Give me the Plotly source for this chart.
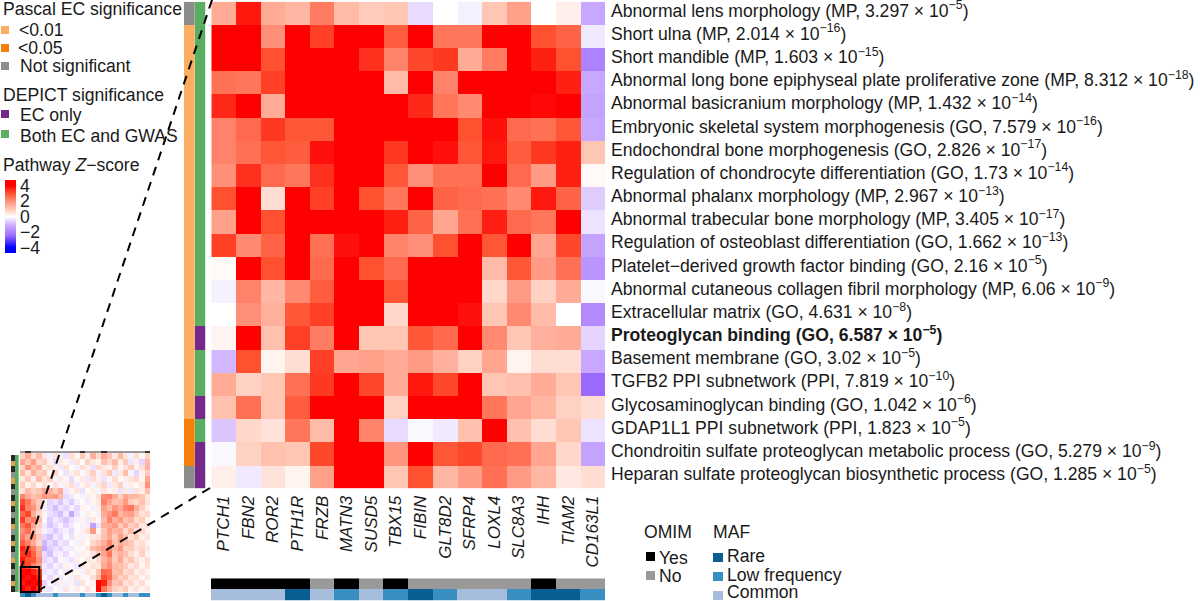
import plotly.graph_objects as go

W, H = 1200, 601
FONT = "Liberation Sans"
TXT = "#1a1a1a"
FS = 17.6

genes = ["PTCH1", "FBN2", "ROR2", "PTH1R", "FRZB", "MATN3", "SUSD5", "TBX15", "FIBIN",
         "GLT8D2", "SFRP4", "LOXL4", "SLC8A3", "IHH", "TIAM2", "CD163L1"]

pathways = [
    "Abnormal lens morphology (MP, 3.297 × 10<sup>−5</sup>)",
    "Short ulna (MP, 2.014 × 10<sup>−16</sup>)",
    "Short mandible (MP, 1.603 × 10<sup>−15</sup>)",
    "Abnormal long bone epiphyseal plate proliferative zone (MP, 8.312 × 10<sup>−18</sup>)",
    "Abnormal basicranium morphology (MP, 1.432 × 10<sup>−14</sup>)",
    "Embryonic skeletal system morphogenesis (GO, 7.579 × 10<sup>−16</sup>)",
    "Endochondral bone morphogenesis (GO, 2.826 × 10<sup>−17</sup>)",
    "Regulation of chondrocyte differentiation (GO, 1.73 × 10<sup>−14</sup>)",
    "Abnormal phalanx morphology (MP, 2.967 × 10<sup>−13</sup>)",
    "Abnormal trabecular bone morphology (MP, 3.405 × 10<sup>−17</sup>)",
    "Regulation of osteoblast differentiation (GO, 1.662 × 10<sup>−13</sup>)",
    "Platelet−derived growth factor binding (GO, 2.16 × 10<sup>−5</sup>)",
    "Abnormal cutaneous collagen fibril morphology (MP, 6.06 × 10<sup>−9</sup>)",
    "Extracellular matrix (GO, 4.631 × 10<sup>−8</sup>)",
    "<b>Proteoglycan binding (GO, 6.587 × 10<sup>−5</sup>)</b>",
    "Basement membrane (GO, 3.02 × 10<sup>−5</sup>)",
    "TGFB2 PPI subnetwork (PPI, 7.819 × 10<sup>−10</sup>)",
    "Glycosaminoglycan binding (GO, 1.042 × 10<sup>−6</sup>)",
    "GDAP1L1 PPI subnetwork (PPI, 1.823 × 10<sup>−5</sup>)",
    "Chondroitin sulfate proteoglycan metabolic process (GO, 5.279 × 10<sup>−9</sup>)",
    "Heparan sulfate proteoglycan biosynthetic process (GO, 1.285 × 10<sup>−5</sup>)",
]

zscores = [
    [1.5, 3.7, 1.5, 1.3, 2.3, 1.2, 0.9, 1.0, -0.5, 0.0, -0.2, 1.0, 1.7, 0.0, 0.3, -1.2],
    [4, 4, 2, 4, 3.2, 4, 4, 2.8, 4, 2.4, 2.4, 4, 4, 3, 2.7, -0.3],
    [4, 4, 3, 4, 4, 4, 3.4, 2.2, 3.1, 3.3, 1.5, 2.3, 4, 3.6, 3, -2],
    [2.5, 2.4, 3.2, 4, 4, 4, 4, 1.2, 4, 2.2, 4, 4, 4, 4, 3.6, -1.2],
    [3.5, 4, 1.5, 4, 4, 4, 4, 4, 3.5, 2.4, 2.1, 4, 4, 3.9, 4, -1.3],
    [2.2, 2.6, 3.3, 2.9, 2.9, 4, 4, 4, 4, 4, 3, 3.8, 2.6, 2.5, 2.9, -1.2],
    [2.2, 2.5, 2.9, 2.8, 3.8, 4, 4, 3.3, 4, 3.8, 2.9, 3.7, 2.8, 3.3, 3.6, 1.0],
    [2, 3.4, 2.6, 2.4, 3.4, 4, 4, 2.9, 2, 2.5, 2.5, 4, 2.6, 1.8, 3.6, 0.1],
    [3, 4, 0.6, 4, 3.2, 4, 3, 2.4, 4, 2.7, 2.6, 2.5, 2.1, 3.7, 2.7, -0.7],
    [1.7, 4, 3, 4, 4, 4, 4, 3.6, 2.7, 1.6, 2.5, 3.6, 2.6, 2.4, 4, -0.4],
    [3.2, 2.1, 2.7, 4, 2.5, 3.8, 4, 2.2, 2, 3, 4, 2.9, 4, 1.6, 3.1, -1.3],
    [0.1, 4, 3, 4, 2.6, 4, 3, 2.6, 4, 4, 4, 1.2, 2.9, 1.8, 2.5, -1.6],
    [-0.2, 2.2, 1.3, 2.1, 2.8, 4, 4, 2.9, 4, 4, 4, 0.7, 1.8, 0.8, 1.5, -0.1],
    [0, 2, 1.4, 2.9, 3.2, 4, 4, 0.7, 4, 4, 3.8, 1, 2.1, 1.2, 0, -1.8],
    [0.2, 4, 1.1, 3.2, 2.3, 4, 1, 1, 2.9, 2.6, 4, 2.1, 1, 1.4, 1.5, -0.6],
    [-1, 3, 0.2, 0.6, 3.2, 1.6, 1.7, 1.5, 1.8, 1.4, 0.8, 1.6, 0.2, 0.6, 0.6, -1.2],
    [1.5, 0.8, 1, 2.5, 3.3, 4, 3.1, 1.5, 3.7, 3.1, 4, 1, 1.1, 1.5, 1, -2.5],
    [1.1, 2.5, 1, 2.8, 4, 4, 4, 0.8, 4, 4, 4, 2.4, 1.6, 1.3, 0.8, 0.6],
    [-0.8, 0.7, 0.5, 2.4, 1.2, 4, 2.2, -0.5, -0.1, -0.3, 1.1, 4, 1.1, 0.6, 1, -0.4],
    [-0.1, 0.8, 1.1, 1, 3.1, 4, 4, 1.9, 4, 2.9, 3.1, 2.6, 2.5, 1.6, 0.7, -1.3],
    [0.3, -0.3, 0.5, 0.2, 1.7, 4, 4, 1, 3, 1.3, 1.8, 2.5, 1.8, 1.3, 0.4, 0.6],
]

# 0 <0.01, 1 <0.05, 2 not significant
pascal = [2] + [0] * 17 + [1, 1, 2]
# 0 both, 1 EC only
depict = [0] * 14 + [1, 0, 0, 1, 0, 1, 1]
# 0 yes, 1 no
omim = [0, 0, 0, 0, 1, 0, 1, 0, 1, 1, 1, 1, 1, 0, 1, 1]
# 2 rare, 3 low frequency, 4 common
maf = [4, 4, 4, 2, 4, 3, 4, 3, 2, 3, 4, 4, 3, 2, 2, 3]

overview = [
    [0.8, 1.5, 0.6, 1.2, 0.4, -0.2, 0.5, 0.3, -0.4, 0.6, 0.2, 0.9, 0.3, 1.4, 0.6, 1.5, 1.0, 0.4, 1.3, 0.5, -0.2, 0.6, 0.2, 0.8],
    [1.6, 1.0, 1.8, 0.7, 0.9, 0.3, -0.5, 0.4, 0.2, -0.3, 0.5, 0.1, 0.8, 0.4, 0.2, 1.1, 0.7, 1.2, 0.3, 0.9, -0.4, 0.3, -0.6, 1.2],
    [0.7, 1.9, 1.1, 1.4, 0.3, 0.6, 0.2, -0.3, 0.5, 0.1, -0.2, 0.6, 0.3, -0.4, 0.7, 0.4, 0.3, 0.8, 0.2, 0.5, 0.9, 0.2, 0.6, 1.4],
    [1.2, 0.5, 1.4, 0.8, 1.0, 0.2, 0.7, 0.1, -0.4, 0.3, 0.5, -0.1, 0.4, 0.8, -0.2, 0.5, 1.0, -0.3, 0.4, 1.1, -0.2, -0.6, 0.3, 0.9],
    [0.4, 0.9, 0.3, 1.2, 0.5, 0.8, -0.2, 0.4, 0.2, -0.5, 0.2, 0.4, -0.3, 0.6, 0.3, -0.4, 0.2, 0.6, 0.1, 0.3, 0.5, 0.7, 0.2, 1.6],
    [0.9, 0.3, 0.7, 0.2, 0.6, 0.1, 0.5, -0.2, 0.3, 0.6, -0.3, 0.2, 0.5, -0.2, 0.4, 0.7, -0.3, 0.4, 0.8, -0.2, 0.3, 0.1, 0.4, 2.0],
    [0.5, 1.2, 0.8, 1.0, 1.6, 1.4, 0.9, 1.5, -0.3, 0.2, 0.4, -0.4, 0.1, 0.3, -0.2, 0.5, 0.2, 0.3, -0.4, 0.4, -0.3, 0.5, 0.3, 1.1],
    [2.2, 1.5, 1.1, 1.3, 1.9, 1.6, 1.8, 1.2, -0.5, -0.3, 0.1, -0.2, 0.3, 0.2, 0.5, 2.0, 2.2, 1.5, 0.8, 1.6, 1.3, 1.2, 1.0, 0.4],
    [3.0, 2.4, 1.5, 0.9, 0.1, -0.6, -0.4, -0.8, -0.3, -0.7, -0.2, 0.1, -0.3, 0.2, 0.4, 2.2, 1.6, 1.1, 1.2, 1.8, 0.9, 0.7, 1.1, 0.5],
    [3.4, 2.2, 1.9, 1.0, -0.2, -0.5, -0.9, -0.4, -0.6, -0.2, -0.5, 0.2, 0.1, -0.2, 0.3, 1.7, 1.2, 1.9, 1.5, 2.2, 2.4, 1.4, 0.8, 0.3],
    [2.6, 3.1, 1.4, 0.7, 0.2, -0.4, -0.6, -0.9, -0.3, -1.2, -0.4, -0.1, 0.3, 0.1, -0.2, 1.5, 1.9, 2.4, 1.3, 1.6, 1.7, 1.0, 0.5, 0.7],
    [3.2, 2.0, 2.3, 1.2, -0.1, -0.7, -0.3, -0.5, -0.8, -0.4, -0.2, 0.2, -0.3, 0.4, 0.1, 1.2, 2.2, 1.4, 1.8, 1.1, 1.3, 0.6, 0.9, 0.2],
    [2.4, 2.9, 1.6, 0.8, -0.3, -0.8, -0.5, -0.2, -0.6, -0.3, 0.1, -0.2, 0.3, -1.4, -0.4, 1.4, 1.5, 1.8, 0.9, 1.5, 0.8, 1.1, 0.4, 0.6],
    [2.0, 2.5, 1.3, 0.6, -0.2, -0.4, -0.7, -0.4, -0.2, -0.5, -0.1, 0.3, 0.5, 1.8, 0.2, 1.0, 1.7, 1.3, 1.4, 0.7, 1.2, 0.5, 0.7, 0.3],
    [2.3, 1.7, 1.9, 0.9, -0.6, -0.9, -0.3, -0.6, -0.1, -0.4, 0.2, -0.2, 0.2, 0.4, 0.5, 1.1, 1.6, 0.9, 1.8, 1.0, 0.6, 0.9, 0.3, 0.5],
    [2.8, 2.2, 1.5, 0.7, -1.0, -0.5, -0.8, -0.3, -0.5, 0.1, -0.2, 0.3, 0.1, 0.7, 1.0, 1.4, 2.2, 1.1, 1.5, 1.2, 1.0, 0.4, 0.6, 0.2],
    [3.6, 3.0, 2.4, 1.4, -1.2, -0.7, -0.4, -0.6, -0.2, -0.3, 0.2, -0.1, 0.4, 1.2, 1.5, 1.8, 2.0, 1.3, 1.9, 0.8, 0.9, 0.5, 0.7, 0.4],
    [3.3, 3.5, 2.7, 1.6, -0.5, -0.9, -0.3, -0.2, -0.5, 0.1, -0.2, 0.3, 0.2, 0.5, 0.9, 1.6, 2.4, 1.0, 1.4, 1.1, 0.6, 0.3, 0.8, 0.2],
    [3.7, 3.0, 2.9, 2.0, -0.6, -0.3, -0.7, 0.1, -0.2, -0.4, 0.3, 0.1, 0.4, 0.3, 0.6, 1.3, 1.8, 0.9, 1.6, 0.7, 1.0, 0.5, 0.3, 0.6],
    [3.4, 3.1, 2.2, 1.7, -0.3, -0.6, -0.2, -0.4, 0.2, -0.1, -0.3, 0.4, 0.2, 0.5, 0.4, 1.5, 2.0, 1.2, 1.1, 0.9, 0.4, 0.7, 0.2, 0.5],
    [3.9, 4, 3.6, 3.2, -0.4, -0.2, -0.5, 0.1, -0.3, 0.3, 0.1, -0.2, 0.5, 0.3, 1.0, 2.6, 2.4, 1.1, 1.3, 0.6, 0.8, 0.3, 0.5, 0.2],
    [4, 3.8, 4, 3.5, -0.1, -0.5, 0.2, -0.3, 0.1, -0.2, 0.4, 0.2, -0.1, 0.6, 1.3, 3.0, 2.6, 1.4, 0.8, 1.0, 0.5, 0.6, 0.2, 0.4],
    [3.7, 4, 3.9, 4, -0.6, -0.1, -0.3, 0.3, -0.2, 0.2, -0.4, 0.5, 0.1, 0.3, 4, 3.6, 2.0, 1.0, 1.2, 0.5, 0.7, 0.3, 0.6, 0.1],
    [4, 3.6, 4, 3.4, -0.2, -0.4, 0.1, -0.2, 0.4, -0.1, 0.3, 0.1, 0.5, 0.2, 4, 2.4, 1.5, 0.8, 0.6, 0.9, 0.3, 0.5, 0.2, 0.4],
]
overview_side = [0, 1, 0, 2, 1, 0, 2, 0, 1, 0, 2, 0, 1, 2, 0, 1, 0, 2, 1, 0, 2, 0, 1, 0]
overview_top = [1, 0, 1, 1, 1, 1, 1, 1, 1, 1, 1, 0, 1, 1, 1, 0, 1, 1, 1, 1, 1, 1, 1, 0]
overview_bottom = [3, 2, 3, 4, 4, 4, 3, 4, 4, 4, 4, 3, 4, 4, 3, 2, 3, 4, 4, 3, 4, 4, 3, 3]

ORANGE_L, ORANGE_D, GREY = "#fbae62", "#f57f0a", "#8c8c8c"
PURPLE, GREEN = "#74298a", "#5aae61"
BLACK, OMIM_NO, RARE, LOW, COMMON = "#000000", "#999999", "#0a5e94", "#3a8fc2", "#a6bddb"

ZR = 4.7
def pos(v):
    return (v + ZR) / (2 * ZR)
zscale = [
    [0, "#0000ff"], [pos(-4), "#0000ff"], [pos(-2.5), "#9a6aff"], [pos(-1.2), "#c8a8ff"],
    [pos(0), "#ffffff"], [pos(1), "#ffc6b4"], [pos(2), "#ff8f78"], [pos(3), "#ff5030"],
    [pos(4), "#ff0000"], [1, "#ff0000"],
]


def discrete(colors):
    n = len(colors)
    out = []
    for i, c in enumerate(colors):
        out += [[i / n, c], [(i + 1) / n, c]]
    return out


axes = {}
def area(name, x0, x1, y0, y1, **kw):
    axes[f"xaxis{name}"] = dict(domain=[x0 / W, x1 / W], visible=False, anchor=f"y{name}",
                                fixedrange=True, **kw.get("x", {}))
    axes[f"yaxis{name}"] = dict(domain=[1 - y1 / H, 1 - y0 / H], visible=False, anchor=f"x{name}",
                                fixedrange=True, autorange="reversed", **kw.get("y", {}))


fig = go.Figure()

# main heatmap
fig.add_trace(go.Heatmap(
    z=zscores, x=list(range(16)), y=list(range(21)), colorscale=zscale, zmin=-ZR, zmax=ZR,
    xaxis="x", yaxis="y", xgap=0, ygap=0,
    colorbar=dict(x=5 / W, xanchor="left", y=1 - 180 / H, yanchor="top", xpad=0, ypad=0,
                  thicknessmode="pixels", thickness=11, lenmode="pixels", len=73,
                  outlinewidth=0, ticks="", tickvals=[4, 2, 0, -2, -4],
                  ticktext=["4", "2", "0", "−2", "−4"],
                  tickfont=dict(family=FONT, size=FS, color=TXT)),
))
# row labels sit slightly above the row centres in the reference
LABEL_LIFT = 0.12
layout_axes = dict(
    xaxis=dict(domain=[211.3 / W, 605 / W], anchor="y", range=[-0.5, 15.5], tickmode="array",
               tickvals=list(range(16)), ticktext=genes, tickangle=-90, ticks="", showgrid=False,
               zeroline=False, showline=False, side="bottom", automargin=False, fixedrange=True,
               ticklabelstandoff=3, ticklabeloverflow="allow",
               tickfont=dict(family=FONT, size=17, color=TXT, style="italic")),
    yaxis=dict(domain=[1 - 488.3 / H, 1 - 1.7 / H], anchor="x", range=[20.5, -0.5], tickmode="array",
               tickvals=[i - LABEL_LIFT for i in range(21)], ticktext=pathways, side="right", ticks="",
               showgrid=False, zeroline=False, showline=False, automargin=False, fixedrange=True,
               ticklabelstandoff=5, ticklabeloverflow="allow",
               tickfont=dict(family=FONT, size=FS, color=TXT)),
)

# side annotation columns
area("2", 184, 194.7, 1.7, 488.3)
fig.add_trace(go.Heatmap(z=[[v] for v in pascal], colorscale=discrete([ORANGE_L, ORANGE_D, GREY]),
                         zmin=0, zmax=2, showscale=False, xaxis="x2", yaxis="y2"))
area("3", 194.7, 205.3, 1.7, 488.3)
fig.add_trace(go.Heatmap(z=[[v] for v in depict], colorscale=discrete([GREEN, PURPLE]),
                         zmin=0, zmax=1, showscale=False, xaxis="x3", yaxis="y3"))

# bottom annotation rows
area("4", 211, 605, 578.3, 600.7)
fig.add_trace(go.Heatmap(z=[omim, maf], colorscale=discrete([BLACK, OMIM_NO, RARE, LOW, COMMON]),
                         zmin=0, zmax=4, showscale=False, xaxis="x4", yaxis="y4"))

# overview inset
area("5", 20, 150, 453, 592)
fig.add_trace(go.Heatmap(z=overview, colorscale=zscale, zmin=-ZR, zmax=ZR, showscale=False,
                         xaxis="x5", yaxis="y5"))
area("6", 11, 15, 455, 592)
fig.add_trace(go.Heatmap(z=[[v] for v in overview_side], colorscale=discrete(["#2a2a2a", "#e0a050", "#909090"]),
                         zmin=0, zmax=2, showscale=False, xaxis="x6", yaxis="y6"))
area("7", 15, 18.7, 455, 592)
fig.add_trace(go.Heatmap(z=[[0]], colorscale=discrete([GREEN]), zmin=0, zmax=1, showscale=False,
                         xaxis="x7", yaxis="y7"))
area("8", 20, 150, 451, 453)
fig.add_trace(go.Heatmap(z=[overview_top], colorscale=discrete(["#333333", "#999999"]),
                         zmin=0, zmax=1, showscale=False, xaxis="x8", yaxis="y8"))
area("9", 20, 150, 593, 597)
fig.add_trace(go.Heatmap(z=[overview_bottom], colorscale=discrete([RARE, LOW, COMMON]),
                         zmin=2, zmax=4, showscale=False, xaxis="x9", yaxis="y9"))

shapes = []
def px_rect(x0, y0, x1, y1, fill, line=None, w=0):
    shapes.append(dict(type="rect", xref="paper", yref="paper", x0=x0 / W, x1=x1 / W,
                       y0=1 - y1 / H, y1=1 - y0 / H, fillcolor=fill,
                       line=dict(color=line or fill, width=w)))
def px_line(x0, y0, x1, y1):
    shapes.append(dict(type="line", xref="paper", yref="paper", x0=x0 / W, x1=x1 / W,
                       y0=1 - y0 / H, y1=1 - y1 / H,
                       line=dict(color="#000000", width=2, dash="9px,7px")))

for y0, c in [(26, ORANGE_L), (44, ORANGE_D), (62, GREY), (110, PURPLE), (130, GREEN)]:
    px_rect(1, y0, 9, y0 + 8, c)
for y0, c in [(552, BLACK), (571, OMIM_NO)]:
    px_rect(646, y0, 655, y0 + 9, c)
for y0, c in [(553, RARE), (572, LOW), (591, COMMON)]:
    px_rect(713, y0, 723, y0 + 9, c)
px_rect(20.7, 567, 39.3, 592, "rgba(0,0,0,0)", "#000000", 2)
px_line(212, 0, 21.5, 567)
px_line(210, 488, 39.3, 590)

texts = [
    (2, 9.5, "Pascal EC significance"), (18, 30, "&lt;0.01"), (17, 48, "&lt;0.05"),
    (19, 66, "Not significant"), (2, 95, "DEPICT significance"), (19, 115, "EC only"),
    (19, 136, "Both EC and GWAS"), (2, 165, "Pathway <i>Z</i>−score"),
    (643, 532, "OMIM"), (712, 532, "MAF"), (658, 558, "Yes"), (658, 576, "No"),
    (726, 556, "Rare"), (726, 575, "Low frequency"), (726, 591.5, "Common"),
]
annotations = [dict(xref="paper", yref="paper", x=x / W, y=1 - y / H, text=t, showarrow=False,
                    xanchor="left", yanchor="middle", align="left", borderpad=0,
                    font=dict(family=FONT, size=FS, color=TXT)) for x, y, t in texts]

fig.update_layout(
    width=W, height=H, margin=dict(l=0, r=0, t=0, b=0), paper_bgcolor="#ffffff",
    plot_bgcolor="#ffffff", showlegend=False, font=dict(family=FONT, size=FS, color=TXT),
    shapes=shapes, annotations=annotations, **layout_axes, **axes,
)
fig.write_html("out.html", config={"displayModeBar": False},
               post_script="document.body.style.margin='0';document.documentElement.style.overflow='hidden';")
